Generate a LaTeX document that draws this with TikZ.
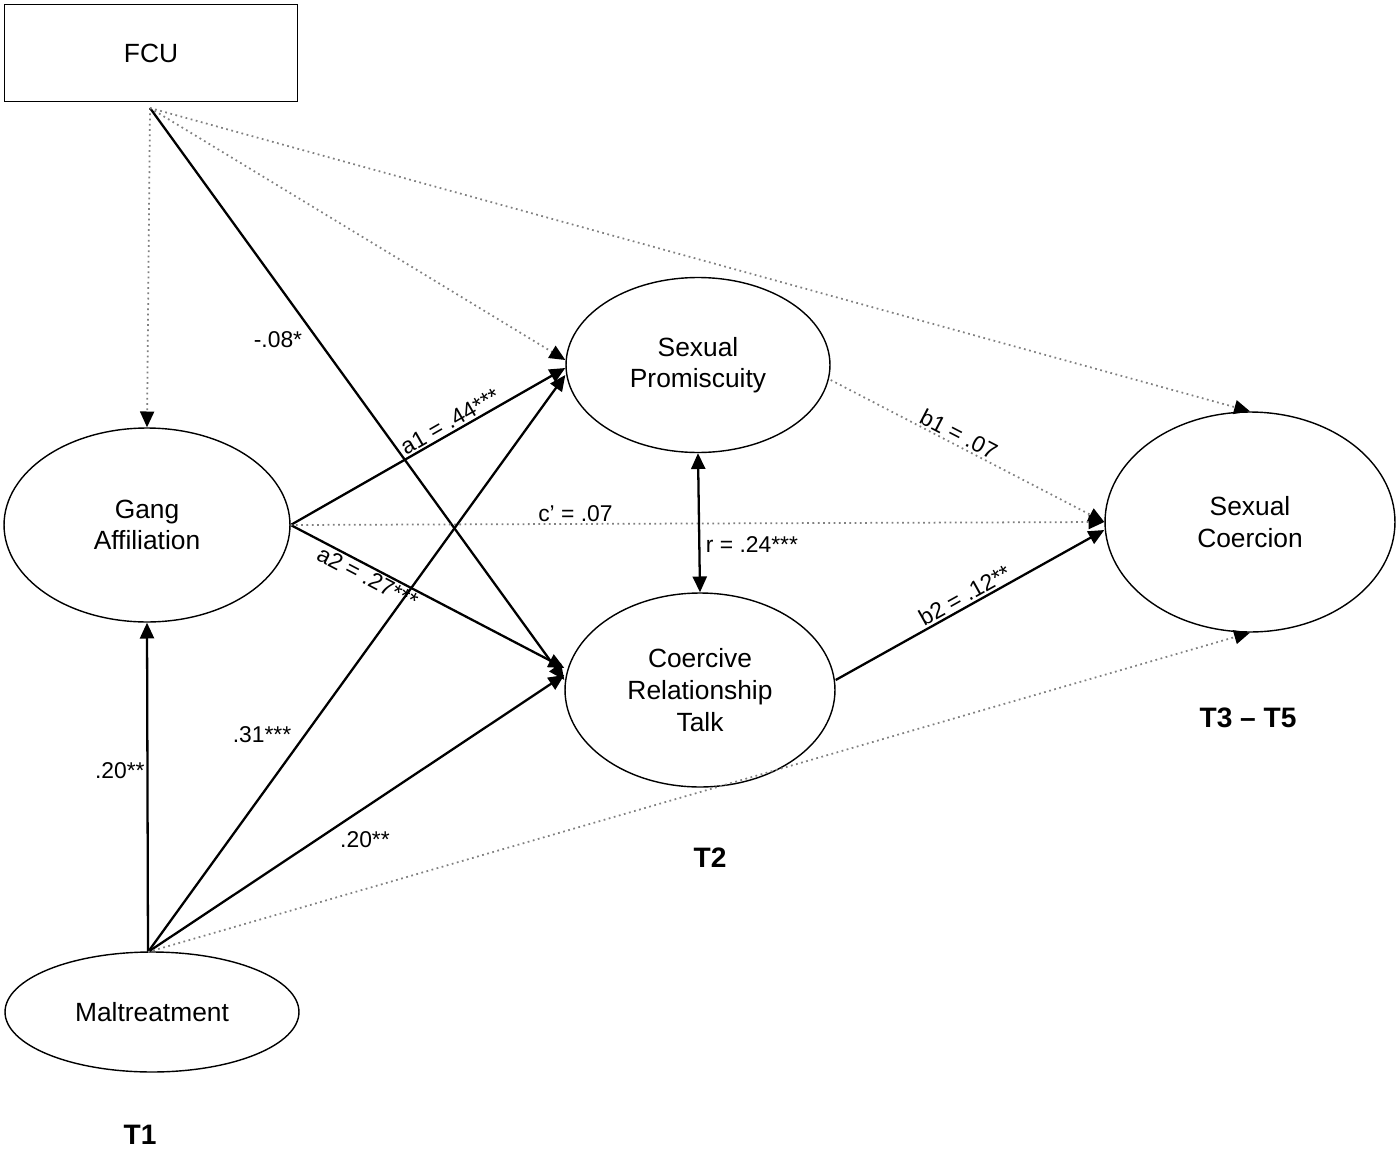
\documentclass[tikz,border=0pt]{standalone}
\usepackage{fontspec}
\setmainfont{Liberation Sans}
\usetikzlibrary{arrows.meta,positioning,calc,shapes.geometric}
\begin{document}
\begin{tikzpicture}[x=0.02cm,y=-0.02cm,>={Triangle[length=9pt,width=8pt]},line width=1.3pt]
	\fontsize{15}{18}\selectfont
	\tikzstyle{latent}=[ellipse,draw=black,thick,inner sep=0pt,align=center]
	\tikzstyle{solidpath}=[->,draw=black,line width=1.3pt]
	\tikzstyle{dotpath}=[-{Triangle[length=9pt,width=8pt,black]},draw=gray,dotted,line width=1pt]
	\tikzstyle{coef}=[font=\fontsize{13}{15}\selectfont,inner sep=1pt]
	\tikzstyle{wave}=[font=\fontsize{16}{18}\selectfont\bfseries]

	\useasboundingbox (0,0) rectangle (1400,1149);

	% variables
	\node[draw=black,thick,minimum width=5.86cm,minimum height=1.94cm] (fcu) at (151,53) {FCU};
	\node[latent,minimum width=5.72cm,minimum height=3.88cm] (gang) at (147,525) {Gang\\Affiliation};
	\node[latent,minimum width=5.88cm,minimum height=2.4cm] (malt) at (152,1012) {Maltreatment};
	\node[latent,minimum width=5.28cm,minimum height=3.5cm] (prom) at (698,365) {Sexual\\Promiscuity};
	\node[latent,minimum width=5.4cm,minimum height=3.88cm] (talk) at (700,690) {Coercive\\Relationship\\Talk};
	\node[latent,minimum width=5.8cm,minimum height=4.4cm] (coer) at (1250,522) {Sexual\\Coercion};

	% waves
	\node[wave] (t1) at (140,1135) {T1};
	\node[wave] (t2) at (710,858) {T2};
	\node[wave] (t3) at (1248,718) {T3 -- T5};

	% FCU paths
	\coordinate (fcuout) at (150,108);
	\draw[dotpath] (fcuout) -- (gang.north);
	\draw[solidpath] (fcuout) -- (talk.west |- 0,680);
	\draw[dotpath] (fcuout) -- (prom.west |- 0,360);
	\draw[dotpath] (fcuout) -- (coer.north);
	\node[coef] (lfcu) at (278,340) {-.08*};

	% gang paths
	\draw[solidpath] (gang.east) -- node[coef,sloped,above,pos=0.6] {a1 = .44***} (prom.west |- 0,368);
	\draw[solidpath] (gang.east) -- node[coef,sloped,below,pos=0.3] {a2 = .27***} (talk.west |- 0,668);
	\draw[dotpath] (gang.east) -- node[coef,above,pos=0.35] {c' = .07} (coer.west);
	\draw[<->,draw=black,line width=1.3pt] (prom.south) -- (talk.north);
	\node[coef] (lr) at (752,545) {r = .24***};

	% mediator paths
	\draw[dotpath] (prom.east |- 0,380) -- node[coef,sloped,above,pos=0.45] {b1 = .07} (coer.west);
	\draw[solidpath] (talk.east |- 0,680) -- node[coef,sloped,above,pos=0.5] {b2 = .12**} ($(coer.west)+(0,8)$);

	% maltreatment paths
	\coordinate (maltout) at (148,952);
	\draw[solidpath] (maltout) -- node[coef,left,pos=0.55] {.20**} (gang.south);
	\draw[solidpath] (maltout) -- (prom.west |- 0,375);
	\node[coef] (l31) at (262,735) {.31***};
	\draw[solidpath] (maltout) -- (talk.west |- 0,675);
	\node[coef] (l20) at (365,840) {.20**};
	\draw[dotpath] (maltout) -- (coer.south);
\end{tikzpicture}
\end{document}
